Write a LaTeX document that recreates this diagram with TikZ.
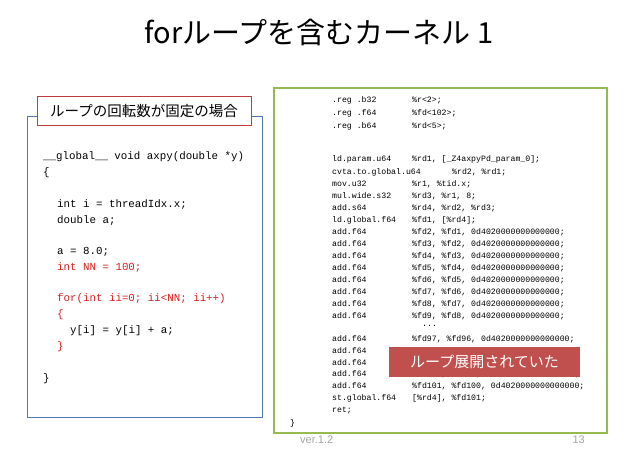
\documentclass[tikz,border=0pt]{standalone}
\usepackage{fontspec}
\setmainfont{Liberation Sans}
\newfontfamily\jp{Noto Sans CJK JP}
\newfontfamily\cmono{Liberation Mono}
\begin{document}
\begin{tikzpicture}[x=1pt,y=-1pt,
  lc/.style={anchor=west,inner sep=0pt,font=\cmono\fontsize{10.8}{12}\selectfont},
  lr/.style={lc,text={rgb,255:red,215;green,30;blue,30}},
  rc/.style={anchor=west,inner sep=0pt,font=\cmono\fontsize{8.2}{10}\selectfont}]
\useasboundingbox (0,0) rectangle (638,451);
\fill[white] (0,0) rectangle (638,451);
\node[font=\jp\fontsize{29}{34}\selectfont] (title) at (319,32) {forループを含むカーネル 1};
% left box
\draw[draw={rgb,255:red,80;green,120;blue,180},line width=1pt] (27,116) rectangle (262,417);
\node[draw={rgb,255:red,190;green,60;blue,60},fill=white,line width=1pt,minimum width=214pt,minimum height=29pt,inner sep=0pt,font=\jp\fontsize{14.5}{17}\selectfont] (lab) at (144,111) {ループの回転数が固定の場合};
\node[lc] (l1) at (43,157) {\_\_global\_\_ void axpy(double *y)};
\node[lc] (l2) at (43,173) {\{};
\node[lc] (l3) at (57,205) {int i = threadIdx.x;};
\node[lc] (l4) at (57,221) {double a;};
\node[lc] (l5) at (57,252) {a = 8.0;};
\node[lr] (l6) at (57,268) {int NN = 100;};
\node[lr] (l7) at (57,299) {for(int ii=0; ii<NN; ii++)};
\node[lr] (l8) at (57,315) {\{};
\node[lc] (l9) at (70,331) {y[i] = y[i] + a;};
\node[lr] (l10) at (57,347) {\}};
\node[lc] (l11) at (43,379) {\}};
% right box
\draw[draw={rgb,255:red,150;green,185;blue,80},line width=1.5pt] (274,88) rectangle (607,433);
\foreach \y/\a/\b in {100/.reg .b32/\%r<2>;,113/.reg .f64/\%fd<102>;,126/.reg .b64/\%rd<5>;,
  159/ld.param.u64/{\%rd1, [\_Z4axpyPd\_param\_0];},
  184/mov.u32/{\%r1, \%tid.x;},196/mul.wide.s32/{\%rd3, \%r1, 8;},208/add.s64/{\%rd4, \%rd2, \%rd3;},
  220/ld.global.f64/{\%fd1, [\%rd4];},
  232/add.f64/{\%fd2, \%fd1, 0d4020000000000000;},244/add.f64/{\%fd3, \%fd2, 0d4020000000000000;},
  256/add.f64/{\%fd4, \%fd3, 0d4020000000000000;},268/add.f64/{\%fd5, \%fd4, 0d4020000000000000;},
  280/add.f64/{\%fd6, \%fd5, 0d4020000000000000;},292/add.f64/{\%fd7, \%fd6, 0d4020000000000000;},
  304/add.f64/{\%fd8, \%fd7, 0d4020000000000000;},316/add.f64/{\%fd9, \%fd8, 0d4020000000000000;},
  339/add.f64/{\%fd97, \%fd96, 0d4020000000000000;},351/add.f64/{},363/add.f64/{},
  374/add.f64/{\%fd100, \%fd99, 0d4020000000000000;},
  386/add.f64/{\%fd101, \%fd100, 0d4020000000000000;},398/st.global.f64/{[\%rd4], \%fd101;},410/ret;/{}}
{ \node[rc] (ra\y) at (332,\y) {\a}; \node[rc] (rb\y) at (412,\y) {\b}; }
\node[rc] (rcv) at (332,172) {cvta.to.global.u64};
\node[rc] (rcv2) at (452,172) {\%rd2, \%rd1;};
\node[rc] (dots) at (422,326) {...};
\node[rc] (rend) at (290,423) {\}};
\node[fill={rgb,255:red,192;green,80;blue,77},text=white,minimum width=191pt,minimum height=30pt,inner sep=0pt,font=\jp\fontsize{15}{17}\selectfont] (call) at (484.5,362) {ループ展開されていた};
\node[anchor=west,inner sep=0pt,text=gray!70,font=\fontsize{11}{13}\selectfont] (ver) at (300,440) {ver.1.2};
\node[anchor=east,inner sep=0pt,text=gray!70,font=\fontsize{11}{13}\selectfont] (pg) at (585,440) {13};
\end{tikzpicture}
\end{document}
